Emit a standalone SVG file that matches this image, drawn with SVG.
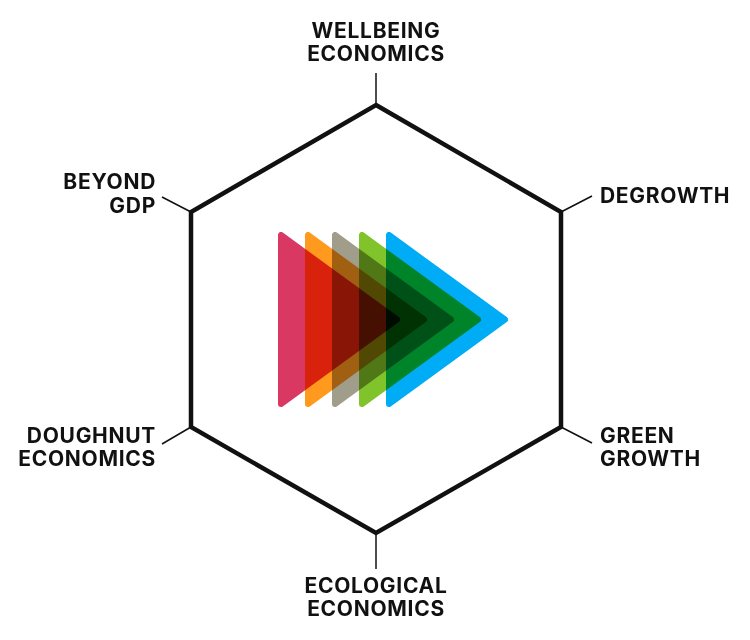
<svg xmlns="http://www.w3.org/2000/svg" width="750" height="640" viewBox="0 0 750 640">
<style>
.lbl{font-family:Inter,"Liberation Sans",sans-serif;font-weight:700;font-size:21px;letter-spacing:0.7px;fill:#111}
.tick{stroke:#111;stroke-width:1.5;fill:none}
.tri{stroke-linejoin:round;stroke-width:6;mix-blend-mode:multiply}
</style>
<rect width="750" height="640" fill="#fff"/>
<g id="hexagon">
<polygon points="376,105 561,212 561,427 376,533 191,427 191,212" fill="none" stroke="#111" stroke-width="4.5" stroke-linejoin="miter"/>
</g>
<g id="connectors">
<line class="tick" x1="376" y1="73" x2="376" y2="105"/>
<line class="tick" x1="561" y1="212" x2="592" y2="196"/>
<line class="tick" x1="561" y1="427" x2="592" y2="443"/>
<line class="tick" x1="376" y1="533" x2="376" y2="569"/>
<line class="tick" x1="191" y1="427" x2="162" y2="444"/>
<line class="tick" x1="191" y1="212" x2="162" y2="197"/>
</g>
<g id="arrows" style="isolation:isolate">
<polygon class="tri" points="281,235 281,404 397,319.5" fill="#d93862" stroke="#d93862"/>
<polygon class="tri" points="308,235 308,404 424,319.5" fill="#ff9a1f" stroke="#ff9a1f"/>
<polygon class="tri" points="335,235 335,404 451,319.5" fill="#a19d8b" stroke="#a19d8b"/>
<polygon class="tri" points="362,235 362,404 478,319.5" fill="#80c32a" stroke="#80c32a"/>
<polygon class="tri" points="389,235 389,404 505,319.5" fill="#00acf5" stroke="#00acf5"/>
</g>
<g id="wellbeing"><text class="lbl" x="376" y="38" text-anchor="middle">WELLBEING</text><text class="lbl" x="376" y="61" text-anchor="middle">ECONOMICS</text></g>
<g id="degrowth"><text class="lbl" x="600" y="203">DEGROWTH</text></g>
<g id="green"><text class="lbl" x="600" y="443">GREEN</text><text class="lbl" x="600" y="466">GROWTH</text></g>
<g id="ecological"><text class="lbl" x="376" y="593" text-anchor="middle">ECOLOGICAL</text><text class="lbl" x="376" y="616" text-anchor="middle">ECONOMICS</text></g>
<g id="doughnut"><text class="lbl" x="156" y="443" text-anchor="end">DOUGHNUT</text><text class="lbl" x="156" y="466" text-anchor="end">ECONOMICS</text></g>
<g id="beyond"><text class="lbl" x="156" y="189" text-anchor="end">BEYOND</text><text class="lbl" x="156" y="213" text-anchor="end">GDP</text></g>
</svg>
